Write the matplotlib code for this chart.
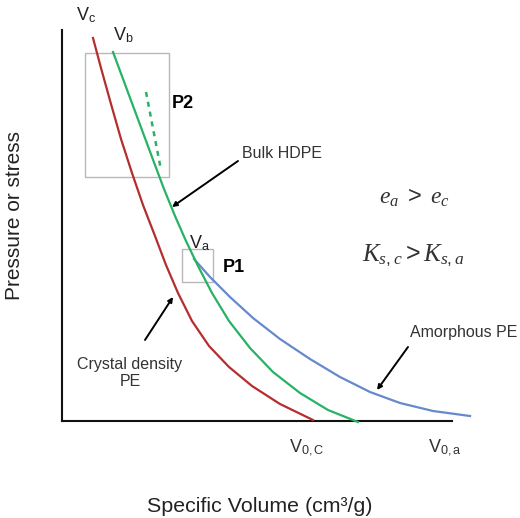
import numpy as np
import matplotlib.pyplot as plt
from matplotlib.patches import Rectangle

plt.rcParams['font.family'] = ['Liberation Sans', 'DejaVu Sans']
plt.rcParams['mathtext.fontset'] = 'custom'
plt.rcParams['mathtext.rm'] = 'Liberation Sans'
plt.rcParams['mathtext.it'] = 'Liberation Serif:italic'
plt.rcParams['mathtext.bf'] = 'Liberation Sans:bold'

# schematic curves (x = volume, y = pressure, arbitrary units)
crystal_x = [31, 39, 49, 59, 70, 81, 93, 104, 116, 130, 147, 167, 190, 218, 251]
crystal_y = [383, 353, 317, 282, 248, 216, 185, 156, 128, 100, 75, 54, 35, 17, 1]

bulk_x = [51, 64, 77, 90, 102, 113, 124, 136, 150, 167, 188, 211, 238, 266, 296]
bulk_y = [369, 334, 299, 264, 232, 205, 180, 155, 128, 100, 73, 49, 28, 11, -1]

amorph_x = [132, 148, 168, 191, 218, 248, 278, 308, 338, 371, 408]
amorph_y = [162, 144, 124, 103, 82, 62, 44, 29, 18, 10, 5]

# unloading tangent (dashed) near Vb
tangent_x = [84, 99]
tangent_y = [329, 251]

fig = plt.figure(figsize=(5.2, 5.18), dpi=100)
ax = fig.add_axes([62 / 520, 97 / 518, 390 / 520, 391 / 518])
ax.set_xlim(0, 390)
ax.set_ylim(0, 391)
ax.set_xticks([])
ax.set_yticks([])
ax.spines['top'].set_visible(False)
ax.spines['right'].set_visible(False)
for s in ['left', 'bottom']:
    ax.spines[s].set_linewidth(1.5)
    ax.spines[s].set_color('#111111')

ax.plot(crystal_x, crystal_y, color='#b52e2e', lw=1.6, clip_on=False, zorder=3,
        solid_joinstyle='round')
ax.plot(bulk_x, bulk_y, color='#27b266', lw=1.6, clip_on=False, zorder=3,
        solid_joinstyle='round')
ax.plot(amorph_x, amorph_y, color='#6689cb', lw=1.6, clip_on=False, zorder=2,
        solid_joinstyle='round')
ax.plot(tangent_x, tangent_y, color='#27b266', lw=1.8, ls=(0, (2.0, 2.0)), zorder=3)

# gray boxes
ax.add_patch(Rectangle((23, 244), 84, 124, fill=False, ec='#b8b8b8', lw=1.0, zorder=1))
ax.add_patch(Rectangle((120, 139), 31, 33, fill=False, ec='#b8b8b8', lw=1.0, zorder=1))

tk = dict(color='#333333', fontsize=11.5)
arr = dict(arrowstyle='-|>', color='black', lw=1.4, mutation_scale=7, shrinkA=0, shrinkB=0)

ax.text(24, 406, r'V$_\mathrm{c}$', fontsize=13, color='#222222', ha='center', va='center', clip_on=False)
ax.text(61, 386, r'V$_\mathrm{b}$', fontsize=13, color='#222222', ha='center', va='center', clip_on=False)
ax.text(138, 178, r'V$_\mathrm{a}$', fontsize=13, color='#222222', ha='center', va='center')
ax.text(110, 318, 'P2', fontsize=13, fontweight='bold', ha='left', va='center')
ax.text(161, 154, 'P1', fontsize=13, fontweight='bold', ha='left', va='center')

ax.text(180, 267, 'Bulk HDPE', ha='left', va='center', **tk)
ax.annotate('', xy=(110, 214), xytext=(176, 260), arrowprops=arr)

ax.text(402, 89, 'Amorphous PE', ha='center', va='center', **tk)
ax.annotate('', xy=(315, 31), xytext=(346, 74), arrowprops=arr)

ax.text(68, 48, 'Crystal density\nPE', ha='center', va='center', linespacing=1.25, **tk)
ax.annotate('', xy=(111, 124), xytext=(83, 81), arrowprops=arr)

ax.text(352, 223, r'$e_a\ >\ e_c$', fontsize=17, color='#333333', ha='center', va='center')
ax.text(351, 166, r'$K_{s,c} > K_{s,a}$', fontsize=18, color='#333333', ha='center', va='center')

ax.text(245, -27, r'V$_\mathrm{0,C}$', fontsize=13, color='#333333', ha='center', va='center', clip_on=False)
ax.text(383, -27, r'V$_\mathrm{0,a}$', fontsize=13, color='#333333', ha='center', va='center', clip_on=False)

fig.text(260 / 520, 1 - 506 / 518, 'Specific Volume (cm³/g)', fontsize=15.4,
         ha='center', va='center', color='#222222')
fig.text(15 / 520, 1 - 215 / 518, 'Pressure or stress', fontsize=15, rotation=90,
         ha='center', va='center', color='#222222')

fig.savefig('out.png', dpi=100)
